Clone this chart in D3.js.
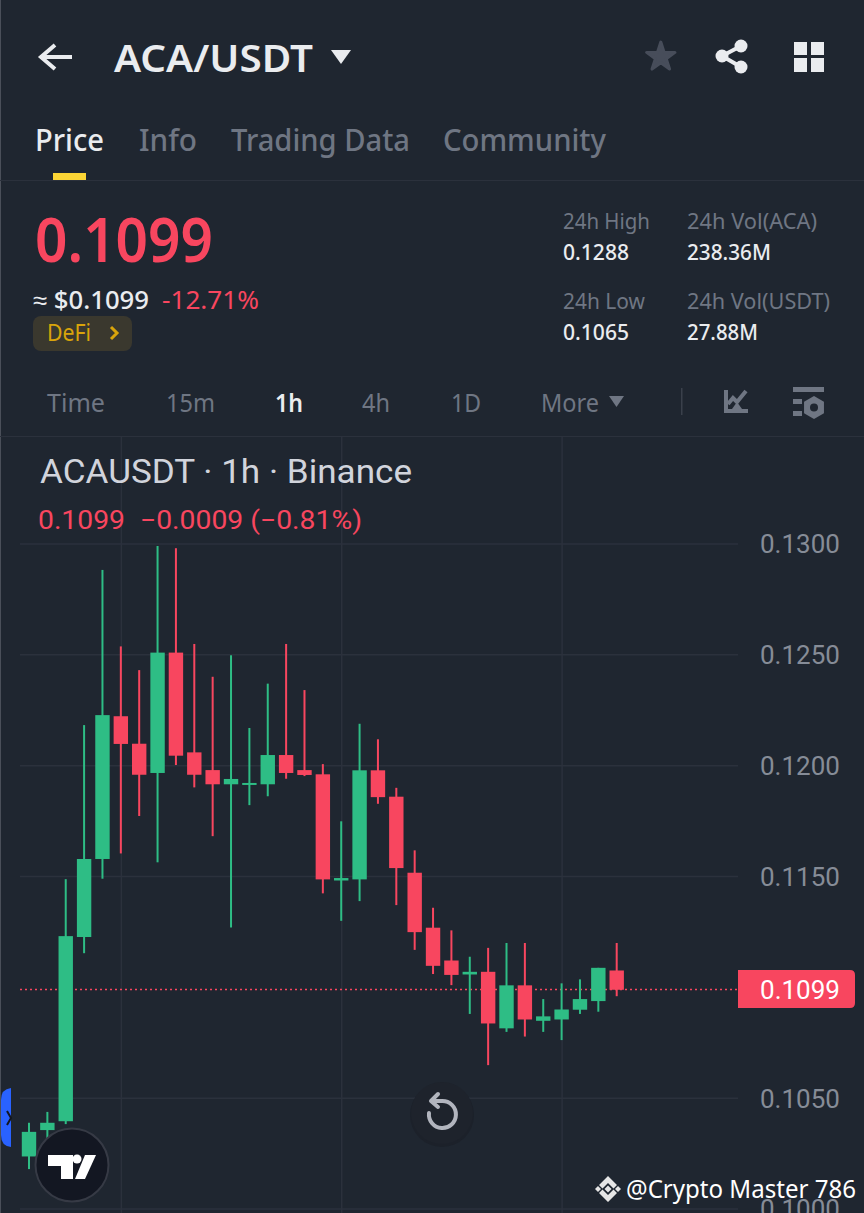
<!DOCTYPE html>
<html>
<head>
<meta charset="utf-8">
<script src="https://cdn.jsdelivr.net/npm/d3@7/dist/d3.min.js"></script>
<style>
html, body { margin: 0; padding: 0; background: #1f2630; overflow: hidden; }
svg { display: block; }
</style>
</head>
<body>
<div id="body"></div>
<script>
// candles, one entry per hour
var opens = [0.10237,0.10356,0.10396,0.11227,0.11579,0.12223,0.12099,0.11967,0.12510,0.12060,0.11980,0.11916,0.11913,0.11916,0.12048,0.11980,0.11961,0.11482,0.11487,0.11979,0.11860,0.11517,0.11269,0.11121,0.11058,0.11070,0.10815,0.11009,0.10849,0.10855,0.10899,0.10938,0.11076];
var highs = [0.10389,0.10438,0.11488,0.12183,0.12883,0.12538,0.12431,0.12991,0.12981,0.12549,0.12401,0.12498,0.12170,0.12370,0.12549,0.12341,0.12007,0.11749,0.12189,0.12119,0.11900,0.11618,0.11359,0.11257,0.11138,0.11178,0.11200,0.11200,0.10947,0.11018,0.11036,0.11088,0.11200];
var lows = [0.10180,0.10311,0.10383,0.11154,0.11490,0.11604,0.11773,0.11564,0.12003,0.11902,0.11682,0.11270,0.11822,0.11862,0.11941,0.11953,0.11424,0.11300,0.11389,0.11828,0.11371,0.11169,0.11060,0.11010,0.10880,0.10649,0.10799,0.10778,0.10799,0.10762,0.10880,0.10890,0.10960];
var closes = [0.10348,0.10389,0.11231,0.11579,0.12228,0.12098,0.11959,0.12510,0.12045,0.11959,0.11916,0.11940,0.11922,0.12048,0.11967,0.11958,0.11487,0.11493,0.11979,0.11858,0.11538,0.11249,0.11097,0.11056,0.11070,0.10837,0.11009,0.10855,0.10869,0.10900,0.10947,0.11088,0.10989];

// 0.1100 sits under the price tag in the picture, so it has no tick
var priceTicks = [0.13, 0.125, 0.12, 0.115, 0.105, 0.1];
var timeGridIndex = [5, 17, 29];
var lastPrice = 0.1099;

var svgWidth = 864;
var svgHeight = 1213;
var bg = "#1f2630";
var gridColor = "#2b313c";
var up = "#2ebd85";
var down = "#f8465f";
var gray = "#6f7683";
var white = "#eaecef";
var uiFont = "'Noto Sans', sans-serif";
var chartFont = "Roboto, sans-serif";

var svg = d3.select("#body").append("svg")
    .attr("width", svgWidth)
    .attr("height", svgHeight)
    .style("background", bg);

// text helper, width is what the label measures in the picture
function label(x, y, txt, size, color, width, weight, font) {
    var t = svg.append("text")
        .attr("x", x)
        .attr("y", y)
        .attr("font-family", font || uiFont)
        .attr("font-size", size)
        .attr("font-weight", weight || 400)
        .attr("fill", color)
        .text(txt);
    if (width) {
        t.attr("textLength", width).attr("lengthAdjust", "spacingAndGlyphs");
    }
    return t;
}

svg.append("rect").attr("x", 0).attr("y", 0).attr("width", 1).attr("height", svgHeight).attr("fill", "#4a4f59");

// top bar
svg.append("path").attr("d", "M72 57H42M55 45L41 57L55 69")
    .attr("fill", "none").attr("stroke", white).attr("stroke-width", 4);
label(114, 72, "ACA/USDT", 37, white, 199, 600);
svg.append("path").attr("d", "M331 50H351L341 64Z").attr("fill", white);
svg.append("path").attr("d", d3.symbol(d3.symbolStar, 250)())
    .attr("transform", "translate(660.8,57)")
    .attr("fill", "#474d5a").attr("stroke", "#474d5a").attr("stroke-width", 3).attr("stroke-linejoin", "round");

var share = svg.append("g").attr("fill", white);
share.append("path").attr("d", "M722 56L741 46M722 56L741 67").attr("stroke", white).attr("stroke-width", 4);
share.append("circle").attr("cx", 722).attr("cy", 56).attr("r", 6.5);
share.append("circle").attr("cx", 741).attr("cy", 46).attr("r", 6.5);
share.append("circle").attr("cx", 741).attr("cy", 67).attr("r", 6.5);

var tiles = [[794, 42, 13, 13], [811, 42, 13, 13], [794, 58, 13, 14], [811, 58, 13, 14]];
svg.selectAll(".tile").data(tiles).enter().append("rect")
    .attr("class", "tile")
    .attr("x", function(d) { return d[0]; })
    .attr("y", function(d) { return d[1]; })
    .attr("width", function(d) { return d[2]; })
    .attr("height", function(d) { return d[3]; })
    .attr("fill", white);

// tabs
label(35, 151, "Price", 31, white, 69, 500);
label(139, 151, "Info", 31, gray, 58, 500);
label(231, 151, "Trading Data", 31, gray, 179, 500);
label(443, 151, "Community", 31, gray, 163, 500);
svg.append("rect").attr("x", 53).attr("y", 173).attr("width", 33).attr("height", 7).attr("fill", "#fcd535");
svg.append("rect").attr("x", 0).attr("y", 180).attr("width", svgWidth).attr("height", 1).attr("fill", gridColor);

// price block
label(35, 262, "0.1099", 61, down, 178, 600);
label(33, 309, "\u2248 $0.1099", 25, white, 116, 500);
label(162, 309, "-12.71%", 25, down, 97);
svg.append("rect").attr("x", 33).attr("y", 316).attr("width", 99).attr("height", 35).attr("rx", 8).attr("fill", "#3a382e");
label(47, 341, "DeFi", 24, "#d9a40b", 44);
svg.append("path").attr("d", "M111 327L117 333L111 339").attr("fill", "none").attr("stroke", "#d9a40b").attr("stroke-width", 3);

label(563, 229, "24h High", 22, gray, 87);
label(563, 260, "0.1288", 22, white, 66, 500);
label(687, 229, "24h Vol(ACA)", 22, gray, 130);
label(687, 260, "238.36M", 22, white, 84, 500);
label(563, 309, "24h Low", 22, gray, 82);
label(563, 340, "0.1065", 22, white, 66, 500);
label(687, 309, "24h Vol(USDT)", 22, gray, 143);
label(687, 340, "27.88M", 22, white, 71, 500);

// interval row
label(47, 412, "Time", 25, gray, 58);
label(166, 412, "15m", 25, gray, 49);
label(275, 412, "1h", 25, white, 28, 600);
label(362, 412, "4h", 25, gray, 28);
label(451, 412, "1D", 25, gray, 30);
label(541, 412, "More", 25, gray, 58);
svg.append("path").attr("d", "M609 396H624L616.5 407Z").attr("fill", gray);
svg.append("rect").attr("x", 681).attr("y", 388).attr("width", 1.5).attr("height", 27).attr("fill", "#3a404b");

svg.append("path").attr("d", "M726 390V411H748M728 404L733 398L737 402L746 391")
    .attr("fill", "none").attr("stroke", gray).attr("stroke-width", 4);
svg.append("path").attr("d", "M732 409L737 402L742 409Z").attr("fill", gray);

svg.append("rect").attr("x", 793).attr("y", 387).attr("width", 31).attr("height", 5).attr("fill", gray);
svg.append("rect").attr("x", 793).attr("y", 399).attr("width", 9).attr("height", 5).attr("fill", gray);
svg.append("rect").attr("x", 793).attr("y", 411).attr("width", 9).attr("height", 5).attr("fill", gray);
svg.append("path").attr("d", d3.line().curve(d3.curveLinearClosed)(d3.range(6).map(function(k) {
        var a = Math.PI / 3 * k;
        return [814 + 11.5 * Math.sin(a), 407.5 + 11.5 * Math.cos(a)];
    }))).attr("fill", gray);
svg.append("circle").attr("cx", 814).attr("cy", 407.5).attr("r", 4).attr("fill", bg);
svg.append("rect").attr("x", 0).attr("y", 436).attr("width", svgWidth).attr("height", 1).attr("fill", gridColor);

// scales
var x = d3.scaleLinear().domain([0, opens.length - 1]).range([29, 616.7]);
var y = d3.scaleLinear().domain([0.13, 0.1]).range([544, 1209]);

// grid and price axis
var xGrid = d3.axisBottom(x).tickValues(timeGridIndex).tickSize(437 - svgHeight).tickFormat("");
svg.append("g").attr("transform", "translate(0," + svgHeight + ")").call(xGrid)
    .call(function(g) { g.select(".domain").remove(); })
    .selectAll("line").attr("stroke", gridColor).attr("stroke-width", 1.5);

var yAxis = d3.axisRight(y).tickValues(priceTicks).tickSize(-718).tickPadding(22).tickFormat(d3.format(".4f"));
var axisG = svg.append("g").attr("transform", "translate(738,-0.5)").call(yAxis);
axisG.select(".domain").remove();
axisG.selectAll("line").attr("stroke", gridColor).attr("stroke-width", 1.5);
axisG.selectAll("text")
    .attr("font-family", chartFont)
    .attr("font-size", 26)
    .attr("dy", "0.36em")
    .attr("fill", "#868c97");

// last price line
svg.append("line")
    .attr("x1", 20).attr("x2", 738)
    .attr("y1", y(lastPrice)).attr("y2", y(lastPrice))
    .attr("stroke", down).attr("stroke-width", 1.5).attr("stroke-dasharray", "2 3");

// candles
var candles = svg.selectAll(".candle").data(d3.range(opens.length)).enter().append("g").attr("class", "candle");
function candleColor(i) { return closes[i] >= opens[i] ? up : down; }
candles.append("rect")
    .attr("x", function(i) { return x(i) - 1; })
    .attr("width", 2)
    .attr("y", function(i) { return y(highs[i]); })
    .attr("height", function(i) { return y(lows[i]) - y(highs[i]); })
    .attr("fill", candleColor);
candles.append("rect")
    .attr("x", function(i) { return x(i) - 7.2; })
    .attr("width", 14.4)
    .attr("y", function(i) { return y(Math.max(opens[i], closes[i])); })
    .attr("height", function(i) { return Math.max(2, Math.abs(y(opens[i]) - y(closes[i]))); })
    .attr("fill", candleColor);

// chart legend
label(40, 483, "ACAUSDT \u00b7 1h \u00b7 Binance", 33, "#d1d4dc", 372, 400, chartFont);
label(38, 529, "0.1099", 26, down, 87, 400, chartFont);
label(140, 529, "\u22120.0009 (\u22120.81%)", 26, down, 222, 400, chartFont);

// last price tag
svg.append("path").attr("d", "M738 970H850Q855 970 855 975V1003Q855 1008 850 1008H738Z").attr("fill", down);
label(760, y(lastPrice) + 9, d3.format(".4f")(lastPrice), 26, "#ffffff", 80, 400, chartFont);

// scroll tab, logo, reset button
svg.append("path").attr("d", "M11 1088V1147Q1 1146 1 1135V1100Q1 1089 11 1088Z").attr("fill", "#2962ff");
svg.append("path").attr("d", "M7 1111L11 1118L7 1125").attr("fill", "none").attr("stroke", "#131722").attr("stroke-width", 2);

svg.append("circle").attr("cx", 72).attr("cy", 1165).attr("r", 36.5).attr("fill", "#131722").attr("stroke", "#363a45").attr("stroke-width", 2);
svg.append("path").attr("d", "M48 1155H73V1179H61V1166H48Z").attr("fill", "#ffffff");
svg.append("circle").attr("cx", 77).attr("cy", 1159).attr("r", 4.5).attr("fill", "#ffffff");
svg.append("path").attr("d", "M85 1155H96L85 1179H75Z").attr("fill", "#ffffff");

svg.append("circle").attr("cx", 442).attr("cy", 1115).attr("r", 32).attr("fill", "#1c212a");
svg.append("circle").attr("cx", 442).attr("cy", 1113).attr("r", 31).attr("fill", "#1e232c");
svg.append("path").attr("d", "M433 1101H442A13.5 13.5 0 1 1 429 1113")
    .attr("fill", "none").attr("stroke", "#b2b5be").attr("stroke-width", 4).attr("stroke-linecap", "round");
svg.append("path").attr("d", "M438 1094L431 1101L438 1107")
    .attr("fill", "none").attr("stroke", "#b2b5be").attr("stroke-width", 4).attr("stroke-linecap", "round").attr("stroke-linejoin", "round");

// watermark
var wm = svg.append("g").attr("fill", "#e6e6e6");
wm.append("path").attr("d", "M608 1176L617 1185L613.5 1188.5L608 1183L602.5 1188.5L599 1185Z");
wm.append("path").attr("d", "M608 1202L617 1193L613.5 1189.5L608 1195L602.5 1189.5L599 1193Z");
wm.append("path").attr("d", "M608 1185.5L611.5 1189L608 1192.5L604.5 1189Z");
wm.append("path").attr("d", "M598 1186L601 1189L598 1192L595 1189Z");
wm.append("path").attr("d", "M618 1186L621 1189L618 1192L615 1189Z");
label(626, 1198, "@Crypto Master 786", 26, "#ffffff", 230, 400, uiFont);
</script>
</body>
</html>
